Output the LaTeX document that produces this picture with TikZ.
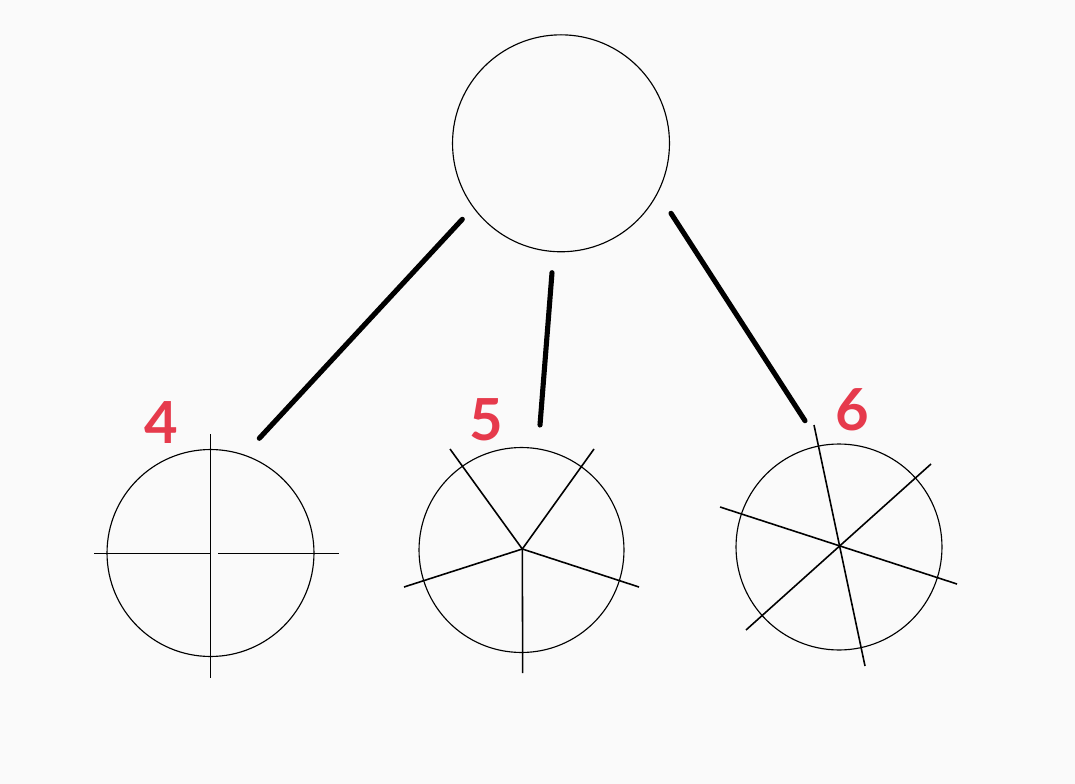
\documentclass[tikz,border=0pt]{standalone}
\usepackage{fontspec}
\setmainfont{Lato}
\definecolor{numred}{HTML}{E63A4C}
\definecolor{paper}{HTML}{FAFAFA}

\begin{document}
\begin{tikzpicture}[x=0.02cm,y=-0.02cm,
  wheel/.style={circle,draw,line width=0.65pt,inner sep=0pt},
  spoke/.style={line width=0.9pt},
  link/.style={line width=2.9pt,line cap=round},
  count/.style={text=numred,font=\fontsize{33}{33}\selectfont\bfseries,inner sep=0pt}]
	\fill[paper] (0,0) rectangle (1075,784);
	\useasboundingbox (0,0) rectangle (1075,784);

	\node[wheel,minimum size=4.34cm] (top) at (561,143.3) {};

	\node[wheel,minimum size=4.14cm] (four) at (210.5,553) {};
	\draw[spoke] (210.7,434) -- (210.7,678);
	\draw[spoke] (94,553.3) -- (210,553.3);
	\draw[spoke] (218,553.3) -- (339,553.3);
	\node[count] (lfour) at (161.5,423) {4};

	\node[wheel,minimum size=4.1cm] (five) at (521.5,550) {};
	\coordinate (hub) at (522.3,549);
	\draw[spoke] (hub) -- (450,449);
	\draw[spoke] (hub) -- (594,449);
	\draw[spoke] (hub) -- (404,587);
	\draw[spoke] (hub) -- (639,587);
	\draw[spoke] (hub) -- (522.7,673);
	\node[count] (lfive) at (486,420) {5};

	\node[wheel,minimum size=4.12cm] (six) at (839,547) {};
	\draw[spoke] (814,425) -- (865,666);
	\draw[spoke] (720,507) -- (957,584);
	\draw[spoke] (746,630) -- (931,464);
	\node[count] (lsix) at (852,410) {6};

	\coordinate (a1) at (462.3,219.3);
	\coordinate (a2) at (259.3,438.3);
	\coordinate (b1) at (552,272.7);
	\coordinate (b2) at (540,425);
	\coordinate (c1) at (671,213.3);
	\coordinate (c2) at (805,420.7);
	\draw[link] (a1) -- (a2);
	\draw[link] (b1) -- (b2);
	\draw[link] (c1) -- (c2);
\end{tikzpicture}
\end{document}
